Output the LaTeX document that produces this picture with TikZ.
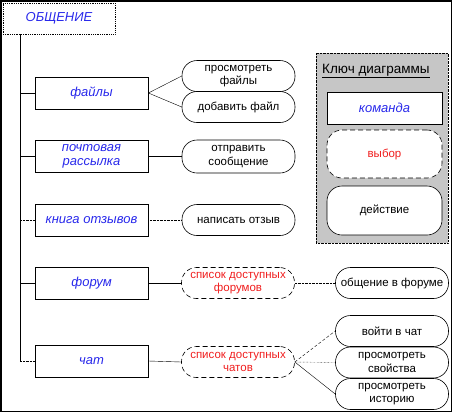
\documentclass[tikz,border=0pt]{standalone}
\usepackage{fontspec}
\setmainfont{Liberation Sans}
\usepackage{xcolor}

\definecolor{cmdblue}{RGB}{40,40,235}
\definecolor{selred}{RGB}{240,30,30}

\tikzset{
  cmdbox/.style={draw, thick, minimum width=113pt, minimum height=32pt,
    inner sep=1pt, font=\fontsize{13}{15}\selectfont\itshape, text=cmdblue},
  actbox/.style={draw, semithick, rounded corners=15pt, minimum width=113pt,
    minimum height=31pt, inner sep=1pt, align=center,
    font=\fontsize{11.5}{13.5}\selectfont},
  selbox/.style={actbox, dash pattern=on 5pt off 3pt, text=selred},
  link/.style={draw, thin}
}

\begin{document}
\begin{tikzpicture}[x=1pt,y=-1pt]

% --- Frame ---
\useasboundingbox (0,0) rectangle (453,413);
\draw[line width=1.2pt] (1,1) rectangle (451.5,411.5);

% --- Root and trunk ---
\node[cmdbox, densely dotted, minimum width=112pt, minimum height=31pt]
      (root) at (59,18.5) {ОБЩЕНИЕ};
\coordinate (trunk) at (20,34);
\coordinate (trunkend) at (20,361);
\draw[link] (trunk) -- (trunkend);

% --- Command boxes ---
\node[cmdbox] (files) at (91.5,93) {файлы};
\node[cmdbox, align=center, font=\fontsize{13}{14}\selectfont\itshape] (mail) at (91.5,156.5) {почтовая\\рассылка};
\node[cmdbox] (book) at (91.5,220) {книга отзывов};
\node[cmdbox] (forum) at (91.5,283) {форум};
\node[cmdbox] (chat) at (91.5,361) {чат};

% --- Actions and selections ---
\node[actbox] (viewfiles) at (238.5,76) {просмотреть\\файлы};
\node[actbox] (addfile) at (238.5,107) {добавить файл};
\node[actbox, minimum height=33pt] (send) at (238.5,156.5) {отправить\\сообщение};
\node[actbox] (write) at (238.5,220) {написать отзыв};
\node[selbox] (forumlist) at (238,283) {список доступных\\форумов};
\node[actbox] (forumtalk) at (392,283) {общение в форуме};
\node[selbox] (chatlist) at (238,362) {список доступных\\чатов};
\node[actbox] (enter) at (392,331) {войти в чат};
\node[actbox] (props) at (392,362.5) {просмотреть\\свойства};
\node[actbox] (history) at (392,394) {просмотреть\\историю};

% --- Branches ---
\draw[link] (trunk |- files.west) -- (files.west);
\draw[link] (trunk |- mail.west) -- (mail.west);
\draw[link, densely dotted] (trunk |- book.west) -- (book.west);
\draw[link] (trunk |- forum.west) -- (forum.west);
\draw[link, densely dotted] (trunk |- chat.west) -- (chat.west);

\draw[link] (files.east) -- (viewfiles.west);
\draw[link] (files.east) -- (addfile.west);
\draw[link] (mail.east) -- (send.west);
\draw[link, densely dotted] (book.east) -- (write.west);
\draw[link] (forum.east) -- (forumlist.west);
\draw[link, densely dotted] (forumlist.east) -- (forumtalk.west);
\draw[link] (chat.east) -- (chatlist.west);
\draw[link, densely dashed] (chatlist.east) -- (enter.west);
\draw[link, densely dotted] (chatlist.east) -- (props.west);
\draw[link] (chatlist.east) -- (history.west);

% --- Legend ---
\draw[densely dotted, fill=gray!45] (316,53) rectangle (448,243);
\node[anchor=west, inner sep=0pt, font=\fontsize{13.5}{15}\selectfont] (keytitle) at (322,71) {\underline{Ключ диаграммы}};
\node[cmdbox, fill=white, minimum width=115pt] (keycmd) at (384.5,108) {команда};
\node[selbox, fill=white, minimum width=115pt, minimum height=48pt] (keysel) at (384.5,154) {выбор};
\node[actbox, fill=white, minimum width=115pt, minimum height=49pt] (keyact) at (384.5,210.5) {действие};

\end{tikzpicture}
\end{document}
